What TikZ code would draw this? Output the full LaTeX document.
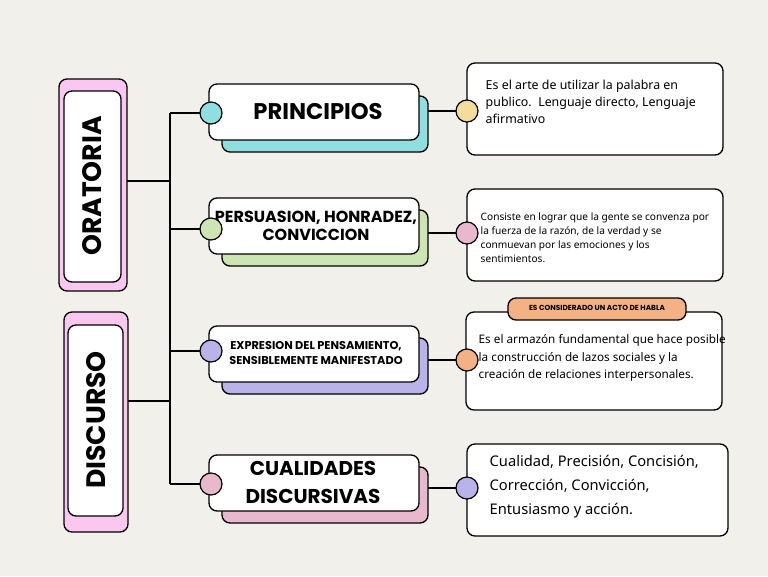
\documentclass[tikz,border=0pt]{standalone}
\usepackage{fontspec}
\setmainfont{Noto Sans}
\newfontfamily\hand{Poppins}
\begin{document}
\begin{tikzpicture}[x=0.75pt,y=-0.75pt,
 box/.style={draw=black,line width=1pt,rounded corners=6pt},
 dot/.style={circle,draw=black,line width=0.9pt,minimum size=16.5pt,inner sep=0},
 conn/.style={line width=1pt},
 title/.style={font=\hand\bfseries\fontsize{17}{20}\selectfont,align=center},
 rt/.style={align=left,font=\fontsize{9.3}{13}\selectfont,anchor=north west}]
\fill[color={rgb,255:red,242;green,240;blue,235}] (0,0) rectangle (768,576);
\useasboundingbox (0,0) rectangle (768,576);
\definecolor{cP}{RGB}{249,199,240}
\definecolor{cA}{RGB}{143,223,224}\definecolor{cB}{RGB}{205,228,179}
\definecolor{cC}{RGB}{184,179,232}\definecolor{cD}{RGB}{232,184,204}
\definecolor{cY}{RGB}{242,221,155}\definecolor{cO}{RGB}{244,177,131}
% left boxes
\draw[box,fill=cP] (59,79) rectangle (127,291);
\draw[box,fill=white] (64,91) rectangle (121,282);
\node[title,rotate=90,font=\hand\bfseries\fontsize{20}{22}\selectfont] (ora) at (92,186) {ORATORIA};
\draw[box,fill=cP] (64,312) rectangle (128,532);
\draw[box,fill=white] (68,325) rectangle (123,516);
\node[title,rotate=90,font=\hand\bfseries\fontsize{20}{22}\selectfont] (dis) at (96,420) {DISCURSO};
\coordinate (o) at (127,181); \coordinate (d) at (128,401);
\coordinate (t1) at (170,113); \coordinate (t4) at (170,484);
\draw[conn] (o) -- (170,181); \draw[conn] (d) -- (170,401);
\draw[conn] (t1) -- (t4);
% middle
\draw[box,fill=cA] (222,96) rectangle (428,152);\draw[box,fill=white] (209,84) rectangle (419,140);
\draw[box,fill=cB] (222,210) rectangle (428,266);\draw[box,fill=white] (209,198) rectangle (419,254);
\draw[box,fill=cC] (222,338) rectangle (428,394);\draw[box,fill=white] (209,326) rectangle (419,382);
\draw[box,fill=cD] (222,467) rectangle (428,523);\draw[box,fill=white] (209,455) rectangle (419,511);
\node[title] (m1) at (318,112) {PRINCIPIOS};
\node[title,font=\hand\bfseries\fontsize{12}{14}\selectfont] (m2) at (316,226) {PERSUASION, HONRADEZ,\\CONVICCION};
\node[title,font=\hand\bfseries\fontsize{8.5}{11}\selectfont] (m3) at (316,353) {EXPRESION DEL PENSAMIENTO,\\SENSIBLEMENTE MANIFESTADO};
\node[title,font=\hand\bfseries\fontsize{15}{21}\selectfont] (m4) at (313,482) {CUALIDADES\\DISCURSIVAS};
\foreach \y/\c in {113/cA,229/cB,351/cC,484/cD}{
 \draw[conn] (170,\y) -- (200,\y);
 \node[dot,fill=\c] at (211,\y) {};}
% right
\draw[box,fill=white] (467,63) rectangle (723,155);
\draw[box,fill=white] (467,189) rectangle (723,281);
\draw[box,fill=white] (466,312) rectangle (722,410);
\draw[box,fill=cO] (508,298) rectangle (686,320);
\draw[box,fill=white] (467,444) rectangle (728,536);
\node[font=\hand\bfseries\fontsize{5.5}{7}\selectfont] (tag) at (597,308) {ES CONSIDERADO UN ACTO DE HABLA};
\foreach \y/\c in {111/cY,233/cD,360/cO,488/cC}{
 \draw[conn] (428,\y) -- (456,\y);
 \node[dot,fill=\c] at (467,\y) {};}
\node[rt] (r1) at (481,75) {Es el arte de utilizar la palabra en\\publico.\ \ Lenguaje directo, Lenguaje\\afirmativo};
\node[rt,font=\fontsize{7.6}{10.5}\selectfont] (r2) at (476,208) {Consiste en lograr que la gente se convenza por\\la fuerza de la razón, de la verdad y se\\conmuevan por las emociones y los\\sentimientos.};
\node[rt,font=\fontsize{8.8}{13}\selectfont] (r3) at (474,330) {Es el armazón fundamental que hace posible\\la construcción de lazos sociales y la\\creación de relaciones interpersonales.};
\node[rt,font=\fontsize{11}{18}\selectfont] (r4) at (485,451) {Cualidad, Precisión, Concisión,\\Corrección, Convicción,\\Entusiasmo y acción.};
\end{tikzpicture}
\end{document}
